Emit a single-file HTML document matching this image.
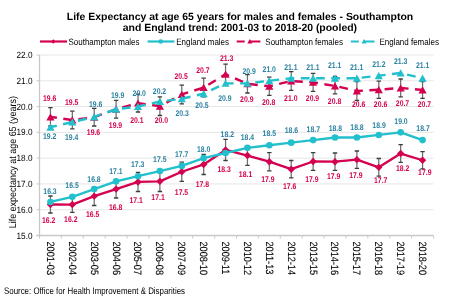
<!DOCTYPE html><html><head><meta charset="utf-8"><style>html,body{margin:0;padding:0;background:#fff;overflow:hidden}svg{display:block;will-change:transform}text{font-family:"Liberation Sans",sans-serif;text-rendering:geometricPrecision}.k{}</style></head><body>
<svg width="449" height="304" viewBox="0 0 449 304">
<rect width="449" height="304" fill="#fff"/>
<text x="240.0" y="19.7" text-anchor="middle" font-size="10.45" font-weight="bold" fill="#000">Life Expectancy at age 65 years for males and females - Southampton</text>
<text x="239.9" y="31.2" text-anchor="middle" font-size="10.45" font-weight="bold" fill="#000">and England trend: 2001-03 to 2018-20 (pooled)</text>
<line x1="40" y1="41.5" x2="67" y2="41.5" stroke="#D40050" stroke-width="2.2"/>
<path d="M53.3 39.3 L55.5 41.5 L53.3 43.7 L51.1 41.5Z" fill="#D40050"/>
<text transform="translate(68.5,44.8) scale(0.8621,1)" font-size="9.28" fill="#000" class="k">Southampton males</text>
<line x1="147.6" y1="41.5" x2="174.4" y2="41.5" stroke="#22BFCC" stroke-width="2.2"/>
<circle cx="160.7" cy="41.5" r="2.2" fill="#22BFCC"/>
<text transform="translate(176.2,44.8) scale(0.8621,1)" font-size="9.28" fill="#000" class="k">England males</text>
<path d="M236.7 41.5H244.7M249.3 41.5H260.4" stroke="#D40050" stroke-width="2.2"/>
<path d="M249.8 38.9 L252.3 43.5 L247.3 43.5Z" fill="#D40050"/>
<text transform="translate(265.3,44.8) scale(0.8621,1)" font-size="9.28" fill="#000" class="k">Southampton females</text>
<path d="M350.8 41.5H358.8M363.3 41.5H374.5" stroke="#22BFCC" stroke-width="2.2"/>
<path d="M364 38.9 L366.5 43.5 L361.5 43.5Z" fill="#22BFCC"/>
<text transform="translate(379.4,44.8) scale(0.8621,1)" font-size="9.28" fill="#000" class="k">England females</text>
<line x1="39.5" y1="209.71" x2="433.5" y2="209.71" stroke="#e6e6e6" stroke-width="1"/>
<line x1="39.5" y1="183.93" x2="433.5" y2="183.93" stroke="#e6e6e6" stroke-width="1"/>
<line x1="39.5" y1="158.14" x2="433.5" y2="158.14" stroke="#e6e6e6" stroke-width="1"/>
<line x1="39.5" y1="132.36" x2="433.5" y2="132.36" stroke="#e6e6e6" stroke-width="1"/>
<line x1="39.5" y1="106.57" x2="433.5" y2="106.57" stroke="#e6e6e6" stroke-width="1"/>
<line x1="39.5" y1="80.79" x2="433.5" y2="80.79" stroke="#e6e6e6" stroke-width="1"/>
<line x1="39.5" y1="55.00" x2="433.5" y2="55.00" stroke="#e6e6e6" stroke-width="1"/>
<line x1="39.5" y1="55.0" x2="39.5" y2="235.5" stroke="#c8c8c8" stroke-width="1.3"/>
<line x1="36.5" y1="235.5" x2="433.5" y2="235.5" stroke="#c8c8c8" stroke-width="1.3"/>
<line x1="36.5" y1="235.50" x2="39.5" y2="235.50" stroke="#c8c8c8" stroke-width="1"/>
<text transform="translate(32.5,238.60) scale(1,1.1)" text-anchor="end" font-size="8.2" fill="#000" class="k">15.0</text>
<line x1="36.5" y1="209.71" x2="39.5" y2="209.71" stroke="#c8c8c8" stroke-width="1"/>
<text transform="translate(32.5,212.81) scale(1,1.1)" text-anchor="end" font-size="8.2" fill="#000" class="k">16.0</text>
<line x1="36.5" y1="183.93" x2="39.5" y2="183.93" stroke="#c8c8c8" stroke-width="1"/>
<text transform="translate(32.5,187.03) scale(1,1.1)" text-anchor="end" font-size="8.2" fill="#000" class="k">17.0</text>
<line x1="36.5" y1="158.14" x2="39.5" y2="158.14" stroke="#c8c8c8" stroke-width="1"/>
<text transform="translate(32.5,161.24) scale(1,1.1)" text-anchor="end" font-size="8.2" fill="#000" class="k">18.0</text>
<line x1="36.5" y1="132.36" x2="39.5" y2="132.36" stroke="#c8c8c8" stroke-width="1"/>
<text transform="translate(32.5,135.46) scale(1,1.1)" text-anchor="end" font-size="8.2" fill="#000" class="k">19.0</text>
<line x1="36.5" y1="106.57" x2="39.5" y2="106.57" stroke="#c8c8c8" stroke-width="1"/>
<text transform="translate(32.5,109.67) scale(1,1.1)" text-anchor="end" font-size="8.2" fill="#000" class="k">20.0</text>
<line x1="36.5" y1="80.79" x2="39.5" y2="80.79" stroke="#c8c8c8" stroke-width="1"/>
<text transform="translate(32.5,83.89) scale(1,1.1)" text-anchor="end" font-size="8.2" fill="#000" class="k">21.0</text>
<line x1="36.5" y1="55.00" x2="39.5" y2="55.00" stroke="#c8c8c8" stroke-width="1"/>
<text transform="translate(32.5,58.10) scale(1,1.1)" text-anchor="end" font-size="8.2" fill="#000" class="k">22.0</text>
<line x1="39.50" y1="235.5" x2="39.50" y2="238.5" stroke="#c8c8c8" stroke-width="1"/>
<line x1="61.39" y1="235.5" x2="61.39" y2="238.5" stroke="#c8c8c8" stroke-width="1"/>
<line x1="83.28" y1="235.5" x2="83.28" y2="238.5" stroke="#c8c8c8" stroke-width="1"/>
<line x1="105.17" y1="235.5" x2="105.17" y2="238.5" stroke="#c8c8c8" stroke-width="1"/>
<line x1="127.06" y1="235.5" x2="127.06" y2="238.5" stroke="#c8c8c8" stroke-width="1"/>
<line x1="148.94" y1="235.5" x2="148.94" y2="238.5" stroke="#c8c8c8" stroke-width="1"/>
<line x1="170.83" y1="235.5" x2="170.83" y2="238.5" stroke="#c8c8c8" stroke-width="1"/>
<line x1="192.72" y1="235.5" x2="192.72" y2="238.5" stroke="#c8c8c8" stroke-width="1"/>
<line x1="214.61" y1="235.5" x2="214.61" y2="238.5" stroke="#c8c8c8" stroke-width="1"/>
<line x1="236.50" y1="235.5" x2="236.50" y2="238.5" stroke="#c8c8c8" stroke-width="1"/>
<line x1="258.39" y1="235.5" x2="258.39" y2="238.5" stroke="#c8c8c8" stroke-width="1"/>
<line x1="280.28" y1="235.5" x2="280.28" y2="238.5" stroke="#c8c8c8" stroke-width="1"/>
<line x1="302.17" y1="235.5" x2="302.17" y2="238.5" stroke="#c8c8c8" stroke-width="1"/>
<line x1="324.06" y1="235.5" x2="324.06" y2="238.5" stroke="#c8c8c8" stroke-width="1"/>
<line x1="345.94" y1="235.5" x2="345.94" y2="238.5" stroke="#c8c8c8" stroke-width="1"/>
<line x1="367.83" y1="235.5" x2="367.83" y2="238.5" stroke="#c8c8c8" stroke-width="1"/>
<line x1="389.72" y1="235.5" x2="389.72" y2="238.5" stroke="#c8c8c8" stroke-width="1"/>
<line x1="411.61" y1="235.5" x2="411.61" y2="238.5" stroke="#c8c8c8" stroke-width="1"/>
<line x1="433.50" y1="235.5" x2="433.50" y2="238.5" stroke="#c8c8c8" stroke-width="1"/>
<text transform="translate(46.84,241.5) rotate(90) scale(1,1.17)" font-size="9.15" fill="#000" stroke="#000" stroke-width="0.06">2001-03</text>
<text transform="translate(68.73,241.5) rotate(90) scale(1,1.17)" font-size="9.15" fill="#000" stroke="#000" stroke-width="0.06">2002-04</text>
<text transform="translate(90.62,241.5) rotate(90) scale(1,1.17)" font-size="9.15" fill="#000" stroke="#000" stroke-width="0.06">2003-05</text>
<text transform="translate(112.51,241.5) rotate(90) scale(1,1.17)" font-size="9.15" fill="#000" stroke="#000" stroke-width="0.06">2004-06</text>
<text transform="translate(134.40,241.5) rotate(90) scale(1,1.17)" font-size="9.15" fill="#000" stroke="#000" stroke-width="0.06">2005-07</text>
<text transform="translate(156.29,241.5) rotate(90) scale(1,1.17)" font-size="9.15" fill="#000" stroke="#000" stroke-width="0.06">2006-08</text>
<text transform="translate(178.18,241.5) rotate(90) scale(1,1.17)" font-size="9.15" fill="#000" stroke="#000" stroke-width="0.06">2007-09</text>
<text transform="translate(200.07,241.5) rotate(90) scale(1,1.17)" font-size="9.15" fill="#000" stroke="#000" stroke-width="0.06">2008-10</text>
<text transform="translate(221.96,241.5) rotate(90) scale(1,1.17)" font-size="9.15" fill="#000" stroke="#000" stroke-width="0.06">2009-11</text>
<text transform="translate(243.84,241.5) rotate(90) scale(1,1.17)" font-size="9.15" fill="#000" stroke="#000" stroke-width="0.06">2010-12</text>
<text transform="translate(265.73,241.5) rotate(90) scale(1,1.17)" font-size="9.15" fill="#000" stroke="#000" stroke-width="0.06">2011-13</text>
<text transform="translate(287.62,241.5) rotate(90) scale(1,1.17)" font-size="9.15" fill="#000" stroke="#000" stroke-width="0.06">2012-14</text>
<text transform="translate(309.51,241.5) rotate(90) scale(1,1.17)" font-size="9.15" fill="#000" stroke="#000" stroke-width="0.06">2013-15</text>
<text transform="translate(331.40,241.5) rotate(90) scale(1,1.17)" font-size="9.15" fill="#000" stroke="#000" stroke-width="0.06">2014-16</text>
<text transform="translate(353.29,241.5) rotate(90) scale(1,1.17)" font-size="9.15" fill="#000" stroke="#000" stroke-width="0.06">2015-17</text>
<text transform="translate(375.18,241.5) rotate(90) scale(1,1.17)" font-size="9.15" fill="#000" stroke="#000" stroke-width="0.06">2016-18</text>
<text transform="translate(397.07,241.5) rotate(90) scale(1,1.17)" font-size="9.15" fill="#000" stroke="#000" stroke-width="0.06">2017-19</text>
<text transform="translate(418.96,241.5) rotate(90) scale(1,1.17)" font-size="9.15" fill="#000" stroke="#000" stroke-width="0.06">2018-20</text>
<text transform="translate(15.5,162.2) rotate(-90) scale(1,1.12)" text-anchor="middle" font-size="8.95" fill="#000" class="k">Life expectancy at age 65 (years)</text>
<text transform="translate(4,294.4) scale(0.8333,1)" font-size="9.48" fill="#000" class="k">Source: Office for Health Improvement &amp; Disparities</text>
<polyline points="50.44,204.50 72.33,204.56 94.22,196.15 116.11,189.09 138.00,181.95 159.89,181.35 181.78,171.75 203.67,164.45 225.56,149.95 247.44,155.56 269.33,161.70 291.22,169.20 313.11,161.50 335.00,161.70 356.89,159.65 378.78,167.35 400.67,153.55 422.56,160.25" fill="none" stroke="#D40050" stroke-width="2.35" stroke-linejoin="round"/>
<path d="M50.44 196.00V213.00" stroke="#6e6e6e" stroke-width="1.25" fill="none"/>
<path d="M48.24 196.00H52.64M48.24 213.00H52.64" stroke="#3c3c3c" stroke-width="1.3" fill="none"/>
<path d="M72.33 196.80V212.40" stroke="#6e6e6e" stroke-width="1.25" fill="none"/>
<path d="M70.13 196.80H74.53M70.13 212.40H74.53" stroke="#3c3c3c" stroke-width="1.3" fill="none"/>
<path d="M94.22 186.80V205.50" stroke="#6e6e6e" stroke-width="1.25" fill="none"/>
<path d="M92.02 186.80H96.42M92.02 205.50H96.42" stroke="#3c3c3c" stroke-width="1.3" fill="none"/>
<path d="M116.11 180.00V198.00" stroke="#6e6e6e" stroke-width="1.25" fill="none"/>
<path d="M113.91 180.00H118.31M113.91 198.00H118.31" stroke="#3c3c3c" stroke-width="1.3" fill="none"/>
<path d="M138.00 172.40V191.50" stroke="#6e6e6e" stroke-width="1.25" fill="none"/>
<path d="M135.80 172.40H140.20M135.80 191.50H140.20" stroke="#3c3c3c" stroke-width="1.3" fill="none"/>
<path d="M159.89 171.70V191.50" stroke="#6e6e6e" stroke-width="1.25" fill="none"/>
<path d="M157.69 171.70H162.09M157.69 191.50H162.09" stroke="#3c3c3c" stroke-width="1.3" fill="none"/>
<path d="M181.78 162.10V181.40" stroke="#6e6e6e" stroke-width="1.25" fill="none"/>
<path d="M179.58 162.10H183.98M179.58 181.40H183.98" stroke="#3c3c3c" stroke-width="1.3" fill="none"/>
<path d="M203.67 154.40V174.50" stroke="#6e6e6e" stroke-width="1.25" fill="none"/>
<path d="M201.47 154.40H205.87M201.47 174.50H205.87" stroke="#3c3c3c" stroke-width="1.3" fill="none"/>
<path d="M225.56 139.40V160.50" stroke="#6e6e6e" stroke-width="1.25" fill="none"/>
<path d="M223.36 139.40H227.76M223.36 160.50H227.76" stroke="#3c3c3c" stroke-width="1.3" fill="none"/>
<path d="M247.44 145.80V165.40" stroke="#6e6e6e" stroke-width="1.25" fill="none"/>
<path d="M245.24 145.80H249.64M245.24 165.40H249.64" stroke="#3c3c3c" stroke-width="1.3" fill="none"/>
<path d="M269.33 152.60V170.80" stroke="#6e6e6e" stroke-width="1.25" fill="none"/>
<path d="M267.13 152.60H271.53M267.13 170.80H271.53" stroke="#3c3c3c" stroke-width="1.3" fill="none"/>
<path d="M291.22 160.50V177.90" stroke="#6e6e6e" stroke-width="1.25" fill="none"/>
<path d="M289.02 160.50H293.42M289.02 177.90H293.42" stroke="#3c3c3c" stroke-width="1.3" fill="none"/>
<path d="M313.11 152.60V170.40" stroke="#6e6e6e" stroke-width="1.25" fill="none"/>
<path d="M310.91 152.60H315.31M310.91 170.40H315.31" stroke="#3c3c3c" stroke-width="1.3" fill="none"/>
<path d="M335.00 153.00V170.40" stroke="#6e6e6e" stroke-width="1.25" fill="none"/>
<path d="M332.80 153.00H337.20M332.80 170.40H337.20" stroke="#3c3c3c" stroke-width="1.3" fill="none"/>
<path d="M356.89 151.00V168.30" stroke="#6e6e6e" stroke-width="1.25" fill="none"/>
<path d="M354.69 151.00H359.09M354.69 168.30H359.09" stroke="#3c3c3c" stroke-width="1.3" fill="none"/>
<path d="M378.78 158.50V176.20" stroke="#6e6e6e" stroke-width="1.25" fill="none"/>
<path d="M376.58 158.50H380.98M376.58 176.20H380.98" stroke="#3c3c3c" stroke-width="1.3" fill="none"/>
<path d="M400.67 144.70V162.40" stroke="#6e6e6e" stroke-width="1.25" fill="none"/>
<path d="M398.47 144.70H402.87M398.47 162.40H402.87" stroke="#3c3c3c" stroke-width="1.3" fill="none"/>
<path d="M422.56 151.60V168.90" stroke="#6e6e6e" stroke-width="1.25" fill="none"/>
<path d="M420.36 151.60H424.76M420.36 168.90H424.76" stroke="#3c3c3c" stroke-width="1.3" fill="none"/>
<path d="M50.44 200.80L54.14 204.50L50.44 208.20L46.74 204.50Z" fill="#D40050"/>
<path d="M72.33 200.86L76.03 204.56L72.33 208.26L68.63 204.56Z" fill="#D40050"/>
<path d="M94.22 192.45L97.92 196.15L94.22 199.85L90.52 196.15Z" fill="#D40050"/>
<path d="M116.11 185.39L119.81 189.09L116.11 192.79L112.41 189.09Z" fill="#D40050"/>
<path d="M138.00 178.25L141.70 181.95L138.00 185.65L134.30 181.95Z" fill="#D40050"/>
<path d="M159.89 177.65L163.59 181.35L159.89 185.05L156.19 181.35Z" fill="#D40050"/>
<path d="M181.78 168.05L185.48 171.75L181.78 175.45L178.08 171.75Z" fill="#D40050"/>
<path d="M203.67 160.75L207.37 164.45L203.67 168.15L199.97 164.45Z" fill="#D40050"/>
<path d="M225.56 146.25L229.26 149.95L225.56 153.65L221.86 149.95Z" fill="#D40050"/>
<path d="M247.44 151.86L251.14 155.56L247.44 159.26L243.74 155.56Z" fill="#D40050"/>
<path d="M269.33 158.00L273.03 161.70L269.33 165.40L265.63 161.70Z" fill="#D40050"/>
<path d="M291.22 165.50L294.92 169.20L291.22 172.90L287.52 169.20Z" fill="#D40050"/>
<path d="M313.11 157.80L316.81 161.50L313.11 165.20L309.41 161.50Z" fill="#D40050"/>
<path d="M335.00 158.00L338.70 161.70L335.00 165.40L331.30 161.70Z" fill="#D40050"/>
<path d="M356.89 155.95L360.59 159.65L356.89 163.35L353.19 159.65Z" fill="#D40050"/>
<path d="M378.78 163.65L382.48 167.35L378.78 171.05L375.08 167.35Z" fill="#D40050"/>
<path d="M400.67 149.85L404.37 153.55L400.67 157.25L396.97 153.55Z" fill="#D40050"/>
<path d="M422.56 156.55L426.26 160.25L422.56 163.95L418.86 160.25Z" fill="#D40050"/>
<polyline points="50.44,201.98 72.33,196.82 94.22,189.09 116.11,181.35 138.00,176.19 159.89,171.04 181.78,165.88 203.67,158.14 225.56,152.99 247.44,147.83 269.33,145.25 291.22,142.67 313.11,140.09 335.00,137.51 356.89,137.51 378.78,134.94 400.67,132.36 422.56,140.09" fill="none" stroke="#22BFCC" stroke-width="2.35" stroke-linejoin="round"/>
<circle cx="50.44" cy="201.98" r="3.3" fill="#22BFCC"/>
<circle cx="72.33" cy="196.82" r="3.3" fill="#22BFCC"/>
<circle cx="94.22" cy="189.09" r="3.3" fill="#22BFCC"/>
<circle cx="116.11" cy="181.35" r="3.3" fill="#22BFCC"/>
<circle cx="138.00" cy="176.19" r="3.3" fill="#22BFCC"/>
<circle cx="159.89" cy="171.04" r="3.3" fill="#22BFCC"/>
<circle cx="181.78" cy="165.88" r="3.3" fill="#22BFCC"/>
<circle cx="203.67" cy="158.14" r="3.3" fill="#22BFCC"/>
<circle cx="225.56" cy="152.99" r="3.3" fill="#22BFCC"/>
<circle cx="247.44" cy="147.83" r="3.3" fill="#22BFCC"/>
<circle cx="269.33" cy="145.25" r="3.3" fill="#22BFCC"/>
<circle cx="291.22" cy="142.67" r="3.3" fill="#22BFCC"/>
<circle cx="313.11" cy="140.09" r="3.3" fill="#22BFCC"/>
<circle cx="335.00" cy="137.51" r="3.3" fill="#22BFCC"/>
<circle cx="356.89" cy="137.51" r="3.3" fill="#22BFCC"/>
<circle cx="378.78" cy="134.94" r="3.3" fill="#22BFCC"/>
<circle cx="400.67" cy="132.36" r="3.3" fill="#22BFCC"/>
<circle cx="422.56" cy="140.09" r="3.3" fill="#22BFCC"/>
<polyline points="50.44,116.89 72.33,120.00 94.22,117.15 116.11,109.20 138.00,103.10 159.89,106.15 181.78,94.45 203.67,87.55 225.56,74.20 247.44,83.85 269.33,86.30 291.22,81.05 313.11,82.35 335.00,85.94 356.89,90.95 378.78,89.75 400.67,87.95 422.56,89.95" fill="none" stroke="#D40050" stroke-width="2.4" stroke-dasharray="8.75,6.5" stroke-dashoffset="2.25"/>
<path d="M50.44 107.70V126.00" stroke="#6e6e6e" stroke-width="1.25" fill="none"/>
<path d="M48.24 107.70H52.64M48.24 126.00H52.64" stroke="#3c3c3c" stroke-width="1.3" fill="none"/>
<path d="M72.33 111.20V128.80" stroke="#6e6e6e" stroke-width="1.25" fill="none"/>
<path d="M70.13 111.20H74.53M70.13 128.80H74.53" stroke="#3c3c3c" stroke-width="1.3" fill="none"/>
<path d="M94.22 108.30V126.00" stroke="#6e6e6e" stroke-width="1.25" fill="none"/>
<path d="M92.02 108.30H96.42M92.02 126.00H96.42" stroke="#3c3c3c" stroke-width="1.3" fill="none"/>
<path d="M116.11 100.30V118.10" stroke="#6e6e6e" stroke-width="1.25" fill="none"/>
<path d="M113.91 100.30H118.31M113.91 118.10H118.31" stroke="#3c3c3c" stroke-width="1.3" fill="none"/>
<path d="M138.00 94.20V112.00" stroke="#6e6e6e" stroke-width="1.25" fill="none"/>
<path d="M135.80 94.20H140.20M135.80 112.00H140.20" stroke="#3c3c3c" stroke-width="1.3" fill="none"/>
<path d="M159.89 96.80V115.50" stroke="#6e6e6e" stroke-width="1.25" fill="none"/>
<path d="M157.69 96.80H162.09M157.69 115.50H162.09" stroke="#3c3c3c" stroke-width="1.3" fill="none"/>
<path d="M181.78 85.10V103.80" stroke="#6e6e6e" stroke-width="1.25" fill="none"/>
<path d="M179.58 85.10H183.98M179.58 103.80H183.98" stroke="#3c3c3c" stroke-width="1.3" fill="none"/>
<path d="M203.67 78.20V96.90" stroke="#6e6e6e" stroke-width="1.25" fill="none"/>
<path d="M201.47 78.20H205.87M201.47 96.90H205.87" stroke="#3c3c3c" stroke-width="1.3" fill="none"/>
<path d="M225.56 64.10V84.30" stroke="#6e6e6e" stroke-width="1.25" fill="none"/>
<path d="M223.36 64.10H227.76M223.36 84.30H227.76" stroke="#3c3c3c" stroke-width="1.3" fill="none"/>
<path d="M247.44 74.70V93.00" stroke="#6e6e6e" stroke-width="1.25" fill="none"/>
<path d="M245.24 74.70H249.64M245.24 93.00H249.64" stroke="#3c3c3c" stroke-width="1.3" fill="none"/>
<path d="M269.33 77.20V95.40" stroke="#6e6e6e" stroke-width="1.25" fill="none"/>
<path d="M267.13 77.20H271.53M267.13 95.40H271.53" stroke="#3c3c3c" stroke-width="1.3" fill="none"/>
<path d="M291.22 71.70V90.40" stroke="#6e6e6e" stroke-width="1.25" fill="none"/>
<path d="M289.02 71.70H293.42M289.02 90.40H293.42" stroke="#3c3c3c" stroke-width="1.3" fill="none"/>
<path d="M313.11 73.30V91.40" stroke="#6e6e6e" stroke-width="1.25" fill="none"/>
<path d="M310.91 73.30H315.31M310.91 91.40H315.31" stroke="#3c3c3c" stroke-width="1.3" fill="none"/>
<path d="M335.00 76.50V93.80" stroke="#6e6e6e" stroke-width="1.25" fill="none"/>
<path d="M332.80 76.50H337.20M332.80 93.80H337.20" stroke="#3c3c3c" stroke-width="1.3" fill="none"/>
<path d="M356.89 81.60V100.30" stroke="#6e6e6e" stroke-width="1.25" fill="none"/>
<path d="M354.69 81.60H359.09M354.69 100.30H359.09" stroke="#3c3c3c" stroke-width="1.3" fill="none"/>
<path d="M378.78 81.20V98.30" stroke="#6e6e6e" stroke-width="1.25" fill="none"/>
<path d="M376.58 81.20H380.98M376.58 98.30H380.98" stroke="#3c3c3c" stroke-width="1.3" fill="none"/>
<path d="M400.67 79.00V96.90" stroke="#6e6e6e" stroke-width="1.25" fill="none"/>
<path d="M398.47 79.00H402.87M398.47 96.90H402.87" stroke="#3c3c3c" stroke-width="1.3" fill="none"/>
<path d="M422.56 81.60V98.30" stroke="#6e6e6e" stroke-width="1.25" fill="none"/>
<path d="M420.36 81.60H424.76M420.36 98.30H424.76" stroke="#3c3c3c" stroke-width="1.3" fill="none"/>
<path d="M50.44 113.19L54.54 120.39L46.34 120.39Z" fill="#D40050"/>
<path d="M72.33 116.30L76.43 123.50L68.23 123.50Z" fill="#D40050"/>
<path d="M94.22 113.45L98.32 120.65L90.12 120.65Z" fill="#D40050"/>
<path d="M116.11 105.50L120.21 112.70L112.01 112.70Z" fill="#D40050"/>
<path d="M138.00 99.40L142.10 106.60L133.90 106.60Z" fill="#D40050"/>
<path d="M159.89 102.45L163.99 109.65L155.79 109.65Z" fill="#D40050"/>
<path d="M181.78 90.75L185.88 97.95L177.68 97.95Z" fill="#D40050"/>
<path d="M203.67 83.85L207.77 91.05L199.57 91.05Z" fill="#D40050"/>
<path d="M225.56 70.50L229.66 77.70L221.46 77.70Z" fill="#D40050"/>
<path d="M247.44 80.15L251.54 87.35L243.34 87.35Z" fill="#D40050"/>
<path d="M269.33 82.60L273.43 89.80L265.23 89.80Z" fill="#D40050"/>
<path d="M291.22 77.35L295.32 84.55L287.12 84.55Z" fill="#D40050"/>
<path d="M313.11 78.65L317.21 85.85L309.01 85.85Z" fill="#D40050"/>
<path d="M335.00 82.24L339.10 89.44L330.90 89.44Z" fill="#D40050"/>
<path d="M356.89 87.25L360.99 94.45L352.79 94.45Z" fill="#D40050"/>
<path d="M378.78 86.05L382.88 93.25L374.68 93.25Z" fill="#D40050"/>
<path d="M400.67 84.25L404.77 91.45L396.57 91.45Z" fill="#D40050"/>
<path d="M422.56 86.25L426.66 93.45L418.46 93.45Z" fill="#D40050"/>
<polyline points="50.44,127.20 72.33,122.04 94.22,116.89 116.11,109.15 138.00,106.57 159.89,101.41 181.78,98.84 203.67,93.68 225.56,83.36 247.44,83.36 269.33,80.79 291.22,78.21 313.11,78.21 335.00,78.21 356.89,78.21 378.78,75.63 400.67,73.05 422.56,78.21" fill="none" stroke="#22BFCC" stroke-width="2.4" stroke-dasharray="8.75,6.5" stroke-dashoffset="2.25"/>
<path d="M50.44 123.50L54.54 130.70L46.34 130.70Z" fill="#22BFCC"/>
<path d="M72.33 118.34L76.43 125.54L68.23 125.54Z" fill="#22BFCC"/>
<path d="M94.22 113.19L98.32 120.39L90.12 120.39Z" fill="#22BFCC"/>
<path d="M116.11 105.45L120.21 112.65L112.01 112.65Z" fill="#22BFCC"/>
<path d="M138.00 102.87L142.10 110.07L133.90 110.07Z" fill="#22BFCC"/>
<path d="M159.89 97.71L163.99 104.91L155.79 104.91Z" fill="#22BFCC"/>
<path d="M181.78 95.14L185.88 102.34L177.68 102.34Z" fill="#22BFCC"/>
<path d="M203.67 89.98L207.77 97.18L199.57 97.18Z" fill="#22BFCC"/>
<path d="M225.56 79.66L229.66 86.86L221.46 86.86Z" fill="#22BFCC"/>
<path d="M247.44 79.66L251.54 86.86L243.34 86.86Z" fill="#22BFCC"/>
<path d="M269.33 77.09L273.43 84.29L265.23 84.29Z" fill="#22BFCC"/>
<path d="M291.22 74.51L295.32 81.71L287.12 81.71Z" fill="#22BFCC"/>
<path d="M313.11 74.51L317.21 81.71L309.01 81.71Z" fill="#22BFCC"/>
<path d="M335.00 74.51L339.10 81.71L330.90 81.71Z" fill="#22BFCC"/>
<path d="M356.89 74.51L360.99 81.71L352.79 81.71Z" fill="#22BFCC"/>
<path d="M378.78 71.93L382.88 79.13L374.68 79.13Z" fill="#22BFCC"/>
<path d="M400.67 69.35L404.77 76.55L396.57 76.55Z" fill="#22BFCC"/>
<path d="M422.56 74.51L426.66 81.71L418.46 81.71Z" fill="#22BFCC"/>
<text transform="translate(48.70,223.35) scale(0.8333,1)" text-anchor="middle" font-size="8.28" font-weight="bold" fill="#D40050">16.2</text>
<text transform="translate(70.78,221.90) scale(0.8333,1)" text-anchor="middle" font-size="8.28" font-weight="bold" fill="#D40050">16.2</text>
<text transform="translate(92.70,217.40) scale(0.8333,1)" text-anchor="middle" font-size="8.28" font-weight="bold" fill="#D40050">16.5</text>
<text transform="translate(115.67,210.10) scale(0.8333,1)" text-anchor="middle" font-size="8.28" font-weight="bold" fill="#D40050">16.8</text>
<text transform="translate(136.15,203.40) scale(0.8333,1)" text-anchor="middle" font-size="8.28" font-weight="bold" fill="#D40050">17.1</text>
<text transform="translate(158.07,200.25) scale(0.8333,1)" text-anchor="middle" font-size="8.28" font-weight="bold" fill="#D40050">17.1</text>
<text transform="translate(181.50,194.50) scale(0.8333,1)" text-anchor="middle" font-size="8.28" font-weight="bold" fill="#D40050">17.5</text>
<text transform="translate(202.38,187.20) scale(0.8333,1)" text-anchor="middle" font-size="8.28" font-weight="bold" fill="#D40050">17.8</text>
<text transform="translate(224.15,171.50) scale(0.8333,1)" text-anchor="middle" font-size="8.28" font-weight="bold" fill="#D40050">18.3</text>
<text transform="translate(245.57,177.05) scale(0.8333,1)" text-anchor="middle" font-size="8.28" font-weight="bold" fill="#D40050">18.1</text>
<text transform="translate(267.85,182.10) scale(0.8333,1)" text-anchor="middle" font-size="8.28" font-weight="bold" fill="#D40050">17.9</text>
<text transform="translate(289.68,188.50) scale(0.8333,1)" text-anchor="middle" font-size="8.28" font-weight="bold" fill="#D40050">17.6</text>
<text transform="translate(311.85,181.85) scale(0.8333,1)" text-anchor="middle" font-size="8.28" font-weight="bold" fill="#D40050">17.9</text>
<text transform="translate(333.68,179.20) scale(0.8333,1)" text-anchor="middle" font-size="8.28" font-weight="bold" fill="#D40050">17.9</text>
<text transform="translate(355.85,178.15) scale(0.8333,1)" text-anchor="middle" font-size="8.28" font-weight="bold" fill="#D40050">17.9</text>
<text transform="translate(380.68,182.85) scale(0.8333,1)" text-anchor="middle" font-size="8.28" font-weight="bold" fill="#D40050">17.7</text>
<text transform="translate(402.70,171.20) scale(0.8333,1)" text-anchor="middle" font-size="8.28" font-weight="bold" fill="#D40050">18.2</text>
<text transform="translate(424.77,175.00) scale(0.8333,1)" text-anchor="middle" font-size="8.28" font-weight="bold" fill="#D40050">17.9</text>
<text transform="translate(50.00,193.75) scale(0.8333,1)" text-anchor="middle" font-size="8.28" font-weight="bold" fill="#2A82A2">16.3</text>
<text transform="translate(72.07,188.30) scale(0.8333,1)" text-anchor="middle" font-size="8.28" font-weight="bold" fill="#2A82A2">16.5</text>
<text transform="translate(94.00,181.95) scale(0.8333,1)" text-anchor="middle" font-size="8.28" font-weight="bold" fill="#2A82A2">16.8</text>
<text transform="translate(115.92,173.95) scale(0.8333,1)" text-anchor="middle" font-size="8.28" font-weight="bold" fill="#2A82A2">17.1</text>
<text transform="translate(137.70,167.40) scale(0.8333,1)" text-anchor="middle" font-size="8.28" font-weight="bold" fill="#2A82A2">17.3</text>
<text transform="translate(159.78,162.20) scale(0.8333,1)" text-anchor="middle" font-size="8.28" font-weight="bold" fill="#2A82A2">17.5</text>
<text transform="translate(181.70,157.05) scale(0.8333,1)" text-anchor="middle" font-size="8.28" font-weight="bold" fill="#2A82A2">17.7</text>
<text transform="translate(203.68,151.70) scale(0.8333,1)" text-anchor="middle" font-size="8.28" font-weight="bold" fill="#2A82A2">18.0</text>
<text transform="translate(227.30,137.20) scale(0.8333,1)" text-anchor="middle" font-size="8.28" font-weight="bold" fill="#2A82A2">18.2</text>
<text transform="translate(247.47,139.60) scale(0.8333,1)" text-anchor="middle" font-size="8.28" font-weight="bold" fill="#2A82A2">18.4</text>
<text transform="translate(269.30,136.40) scale(0.8333,1)" text-anchor="middle" font-size="8.28" font-weight="bold" fill="#2A82A2">18.5</text>
<text transform="translate(291.48,133.30) scale(0.8333,1)" text-anchor="middle" font-size="8.28" font-weight="bold" fill="#2A82A2">18.6</text>
<text transform="translate(313.30,132.20) scale(0.8333,1)" text-anchor="middle" font-size="8.28" font-weight="bold" fill="#2A82A2">18.7</text>
<text transform="translate(335.38,130.55) scale(0.8333,1)" text-anchor="middle" font-size="8.28" font-weight="bold" fill="#2A82A2">18.8</text>
<text transform="translate(357.00,130.25) scale(0.8333,1)" text-anchor="middle" font-size="8.28" font-weight="bold" fill="#2A82A2">18.8</text>
<text transform="translate(379.08,128.30) scale(0.8333,1)" text-anchor="middle" font-size="8.28" font-weight="bold" fill="#2A82A2">18.9</text>
<text transform="translate(401.00,124.40) scale(0.8333,1)" text-anchor="middle" font-size="8.28" font-weight="bold" fill="#2A82A2">19.0</text>
<text transform="translate(423.08,131.40) scale(0.8333,1)" text-anchor="middle" font-size="8.28" font-weight="bold" fill="#2A82A2">18.7</text>
<text transform="translate(49.70,100.85) scale(0.8333,1)" text-anchor="middle" font-size="8.28" font-weight="bold" fill="#D40050">19.6</text>
<text transform="translate(71.67,105.00) scale(0.8333,1)" text-anchor="middle" font-size="8.28" font-weight="bold" fill="#D40050">19.5</text>
<text transform="translate(93.50,135.30) scale(0.8333,1)" text-anchor="middle" font-size="8.28" font-weight="bold" fill="#D40050">19.6</text>
<text transform="translate(115.50,128.40) scale(0.8333,1)" text-anchor="middle" font-size="8.28" font-weight="bold" fill="#D40050">19.9</text>
<text transform="translate(136.85,123.30) scale(0.8333,1)" text-anchor="middle" font-size="8.28" font-weight="bold" fill="#D40050">20.1</text>
<text transform="translate(161.35,123.25) scale(0.8333,1)" text-anchor="middle" font-size="8.28" font-weight="bold" fill="#D40050">20.0</text>
<text transform="translate(181.10,79.40) scale(0.8333,1)" text-anchor="middle" font-size="8.28" font-weight="bold" fill="#D40050">20.5</text>
<text transform="translate(202.95,72.50) scale(0.8333,1)" text-anchor="middle" font-size="8.28" font-weight="bold" fill="#D40050">20.7</text>
<text transform="translate(226.65,60.82) scale(0.8333,1)" text-anchor="middle" font-size="8.28" font-weight="bold" fill="#D40050">21.3</text>
<text transform="translate(246.82,101.85) scale(0.8333,1)" text-anchor="middle" font-size="8.28" font-weight="bold" fill="#D40050">20.9</text>
<text transform="translate(268.60,105.10) scale(0.8333,1)" text-anchor="middle" font-size="8.28" font-weight="bold" fill="#D40050">20.8</text>
<text transform="translate(290.83,101.20) scale(0.8333,1)" text-anchor="middle" font-size="8.28" font-weight="bold" fill="#D40050">21.0</text>
<text transform="translate(312.50,100.60) scale(0.8333,1)" text-anchor="middle" font-size="8.28" font-weight="bold" fill="#D40050">20.9</text>
<text transform="translate(334.58,103.80) scale(0.8333,1)" text-anchor="middle" font-size="8.28" font-weight="bold" fill="#D40050">20.8</text>
<text transform="translate(358.65,107.30) scale(0.8333,1)" text-anchor="middle" font-size="8.28" font-weight="bold" fill="#D40050">20.6</text>
<text transform="translate(380.58,106.70) scale(0.8333,1)" text-anchor="middle" font-size="8.28" font-weight="bold" fill="#D40050">20.6</text>
<text transform="translate(402.50,105.60) scale(0.8333,1)" text-anchor="middle" font-size="8.28" font-weight="bold" fill="#D40050">20.7</text>
<text transform="translate(424.48,106.50) scale(0.8333,1)" text-anchor="middle" font-size="8.28" font-weight="bold" fill="#D40050">20.7</text>
<text transform="translate(49.70,138.70) scale(0.8333,1)" text-anchor="middle" font-size="8.28" font-weight="bold" fill="#2A82A2">19.2</text>
<text transform="translate(71.67,140.10) scale(0.8333,1)" text-anchor="middle" font-size="8.28" font-weight="bold" fill="#2A82A2">19.4</text>
<text transform="translate(95.70,107.30) scale(0.8333,1)" text-anchor="middle" font-size="8.28" font-weight="bold" fill="#2A82A2">19.6</text>
<text transform="translate(117.70,98.30) scale(0.8333,1)" text-anchor="middle" font-size="8.28" font-weight="bold" fill="#2A82A2">19.9</text>
<text transform="translate(139.25,96.15) scale(0.8333,1)" text-anchor="middle" font-size="8.28" font-weight="bold" fill="#2A82A2">20.0</text>
<text transform="translate(159.50,94.20) scale(0.8333,1)" text-anchor="middle" font-size="8.28" font-weight="bold" fill="#2A82A2">20.2</text>
<text transform="translate(182.10,116.05) scale(0.8333,1)" text-anchor="middle" font-size="8.28" font-weight="bold" fill="#2A82A2">20.3</text>
<text transform="translate(201.98,108.45) scale(0.8333,1)" text-anchor="middle" font-size="8.28" font-weight="bold" fill="#2A82A2">20.5</text>
<text transform="translate(224.85,100.60) scale(0.8333,1)" text-anchor="middle" font-size="8.28" font-weight="bold" fill="#2A82A2">20.9</text>
<text transform="translate(249.10,73.75) scale(0.8333,1)" text-anchor="middle" font-size="8.28" font-weight="bold" fill="#2A82A2">20.9</text>
<text transform="translate(269.25,72.10) scale(0.8333,1)" text-anchor="middle" font-size="8.28" font-weight="bold" fill="#2A82A2">21.0</text>
<text transform="translate(290.85,69.60) scale(0.8333,1)" text-anchor="middle" font-size="8.28" font-weight="bold" fill="#2A82A2">21.1</text>
<text transform="translate(312.93,70.00) scale(0.8333,1)" text-anchor="middle" font-size="8.28" font-weight="bold" fill="#2A82A2">21.1</text>
<text transform="translate(334.70,68.30) scale(0.8333,1)" text-anchor="middle" font-size="8.28" font-weight="bold" fill="#2A82A2">21.1</text>
<text transform="translate(356.68,69.60) scale(0.8333,1)" text-anchor="middle" font-size="8.28" font-weight="bold" fill="#2A82A2">21.1</text>
<text transform="translate(378.85,67.05) scale(0.8333,1)" text-anchor="middle" font-size="8.28" font-weight="bold" fill="#2A82A2">21.2</text>
<text transform="translate(400.68,63.70) scale(0.8333,1)" text-anchor="middle" font-size="8.28" font-weight="bold" fill="#2A82A2">21.3</text>
<text transform="translate(422.68,68.15) scale(0.8333,1)" text-anchor="middle" font-size="8.28" font-weight="bold" fill="#2A82A2">21.1</text>
</svg></body></html>
